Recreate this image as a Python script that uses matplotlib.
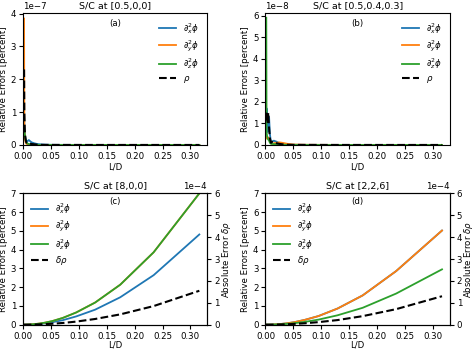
import numpy as np
import matplotlib
matplotlib.use("Agg")
import matplotlib.pyplot as plt
from matplotlib.ticker import MultipleLocator

# L/D sample points for the bottom row
ld = [0.0008, 0.0011, 0.0014, 0.0019, 0.0026, 0.0035, 0.0048, 0.0064, 0.0087, 0.012,
      0.016, 0.021, 0.029, 0.039, 0.052, 0.071, 0.095, 0.129, 0.174, 0.234, 0.316]
# L/D sample points for the top row (spikes close to zero)
ld_top = [0.0015, 0.002, 0.003, 0.004, 0.005, 0.0065, 0.008, 0.01, 0.012, 0.015,
          0.02, 0.025, 0.03, 0.04, 0.05, 0.07, 0.1, 0.13, 0.17, 0.23, 0.316]

# panel (a) S/C at [0.5,0,0], relative errors in units of 1e-7 percent
a_xx = [1.2, 0.5, 0.3, 0.2, 0.15, 0.1, 0.12, 0.15, 0.12, 0.08, 0.05, 0.03, 0.02, 0.01,
        0.005, 0.003, 0.002, 0.001, 0.001, 0.0005, 0.0005]
a_yy = [3.85, 0.5, 0.2, 0.1, 0.05, 0.03, 0.02, 0.01, 0.01, 0.005, 0.003, 0.002, 0.001,
        0.001, 0.0005, 0.0005, 0.0003, 0.0003, 0.0002, 0.0002, 0.0001]
a_zz = [0.5, 0.4, 0.3, 0.2, 0.1, 0.06, 0.04, 0.03, 0.02, 0.01, 0.005, 0.003, 0.002,
        0.001, 0.0005, 0.0005, 0.0003, 0.0003, 0.0002, 0.0002, 0.0001]
a_rho = [2.3, 1.0, 0.4, 0.2, 0.1, 0.06, 0.04, 0.05, 0.04, 0.03, 0.02, 0.01, 0.005,
         0.003, 0.002, 0.001, 0.001, 0.0005, 0.0005, 0.0003, 0.0002]

# panel (b) S/C at [0.5,0.4,0.3], units of 1e-8 percent
b_xx = [0.8, 1.7, 1.0, 0.6, 0.9, 1.3, 0.5, 0.1, 0.15, 0.2, 0.15, 0.08, 0.04, 0.02,
        0.01, 0.005, 0.003, 0.002, 0.001, 0.0005, 0.0003]
b_yy = [0.3, 0.4, 0.35, 0.3, 0.35, 0.3, 0.2, 0.1, 0.05, 0.08, 0.1, 0.12, 0.1, 0.05,
        0.02, 0.01, 0.005, 0.003, 0.002, 0.001, 0.001]
b_zz = [5.9, 0.6, 0.4, 0.3, 0.25, 0.2, 0.1, 0.05, 0.05, 0.04, 0.03, 0.02, 0.01, 0.005,
        0.003, 0.002, 0.001, 0.001, 0.0005, 0.0005, 0.0003]
b_rho = [1.5, 1.2, 1.4, 1.0, 1.5, 0.8, 0.3, 0.1, 0.15, 0.12, 0.08, 0.05, 0.03, 0.01,
         0.005, 0.003, 0.002, 0.001, 0.001, 0.0005, 0.0003]

# panel (c) S/C at [8,0,0], relative errors [percent], abs error in 1e-4
c_xx = [0.00003, 0.00006, 0.0001, 0.00017, 0.0003, 0.0006, 0.0011, 0.002, 0.0036, 0.007,
        0.012, 0.021, 0.04, 0.073, 0.13, 0.24, 0.44, 0.80, 1.46, 2.64, 4.81]
c_yy = [0.00005, 0.00009, 0.00014, 0.00025, 0.00045, 0.0009, 0.0016, 0.0029, 0.0053, 0.01,
        0.018, 0.031, 0.059, 0.107, 0.19, 0.36, 0.65, 1.18, 2.13, 3.86, 7.0]
c_zz = c_yy
c_drho = [0.00001, 0.00002, 0.00003, 0.00006, 0.0001, 0.0002, 0.00036, 0.00064, 0.0012, 0.0022,
          0.004, 0.007, 0.013, 0.024, 0.042, 0.078, 0.14, 0.26, 0.47, 0.85, 1.55]

# panel (d) S/C at [2,2,6]
d_xx = [0.00003, 0.00006, 0.0001, 0.00018, 0.0003, 0.0006, 0.0012, 0.002, 0.0038, 0.0072,
        0.013, 0.022, 0.042, 0.076, 0.135, 0.26, 0.46, 0.86, 1.56, 2.86, 5.02]
d_yy = d_xx
d_zz = [0.00002, 0.00004, 0.00006, 0.0001, 0.0002, 0.0004, 0.0007, 0.0012, 0.0022, 0.0042,
        0.0075, 0.013, 0.025, 0.045, 0.08, 0.15, 0.27, 0.5, 0.9, 1.66, 2.95]
d_drho = [0.00001, 0.00002, 0.00003, 0.00005, 0.00009, 0.00016, 0.0003, 0.00053, 0.001, 0.0018,
          0.0033, 0.0057, 0.011, 0.02, 0.035, 0.065, 0.117, 0.21, 0.39, 0.71, 1.3]

labels = [r'$\partial_x^2\phi$', r'$\partial_y^2\phi$', r'$\partial_z^2\phi$']

plt.rcParams['font.size'] = 6.2
plt.rcParams['xtick.major.size'] = 3
plt.rcParams['ytick.major.size'] = 3
plt.rcParams['xtick.major.pad'] = 2
plt.rcParams['ytick.major.pad'] = 2
fig = plt.figure(figsize=(4.74, 3.51), dpi=100)

pos = {'a': [0.049, 0.587, 0.388, 0.376], 'b': [0.560, 0.587, 0.389, 0.376],
       'c': [0.049, 0.075, 0.388, 0.374], 'd': [0.560, 0.075, 0.389, 0.374]}

# top row
xt = np.array(ld_top)
for key, title, vals, scale, ytop in [
        ('a', 'S/C at [0.5,0,0]', [a_xx, a_yy, a_zz, a_rho], 1e-7, 4.02e-7),
        ('b', 'S/C at [0.5,0.4,0.3]', [b_xx, b_yy, b_zz, b_rho], 1e-8, 6.12e-8)]:
    ax = fig.add_axes(pos[key])
    for i in range(3):
        ax.plot(xt, np.array(vals[i]) * scale, color='C%d' % i, lw=1.3, label=labels[i])
    ax.plot(xt, np.array(vals[3]) * scale, 'k--', lw=1.5, label=r'$\rho$')
    ax.set_xlim(0, 0.33)
    ax.set_ylim(0, ytop)
    ax.xaxis.set_major_locator(MultipleLocator(0.05))
    ax.yaxis.set_major_locator(MultipleLocator(scale))
    ax.set_title(title, fontsize=6.8, pad=3)
    ax.set_xlabel('L/D', labelpad=1)
    ax.set_ylabel('Relative Errors [percent]', labelpad=2)
    ax.text(0.5, 0.9, '(%s)' % key, transform=ax.transAxes, ha='center')
    ax.legend(loc='upper right', frameon=False, labelspacing=0.3)

# bottom row with twin axis for density error
x = np.array(ld)
for key, title, vals in [('c', 'S/C at [8,0,0]', [c_xx, c_yy, c_zz, c_drho]),
                         ('d', 'S/C at [2,2,6]', [d_xx, d_yy, d_zz, d_drho])]:
    ax = fig.add_axes(pos[key])
    lines = []
    for i in range(3):
        l, = ax.plot(x, vals[i], color='C%d' % i, lw=1.3, label=labels[i])
        lines.append(l)
    ax2 = ax.twinx()
    l2, = ax2.plot(x, np.array(vals[3]) * 1e-4, 'k--', lw=1.5, label=r'$\delta\rho$')
    lines.append(l2)
    ax.set_xlim(0, 0.33)
    ax.set_ylim(0, 7)
    ax2.set_ylim(0, 6e-4)
    ax.xaxis.set_major_locator(MultipleLocator(0.05))
    ax.yaxis.set_major_locator(MultipleLocator(1))
    ax2.yaxis.set_major_locator(MultipleLocator(1e-4))
    ax2.ticklabel_format(axis='y', style='sci', scilimits=(0, 0))
    ax.set_title(title, fontsize=6.8, pad=3)
    ax.set_xlabel('L/D', labelpad=0)
    ax.set_ylabel('Relative Errors [percent]', labelpad=2)
    ax2.set_ylabel(r'Absolute Error $\delta\rho$', labelpad=0)
    ax.text(0.5, 0.92, '(%s)' % key, transform=ax.transAxes, ha='center')
    ax.legend(lines, [l.get_label() for l in lines], loc='upper left', frameon=False,
              labelspacing=0.3)

fig.savefig('out.png', dpi=100)
